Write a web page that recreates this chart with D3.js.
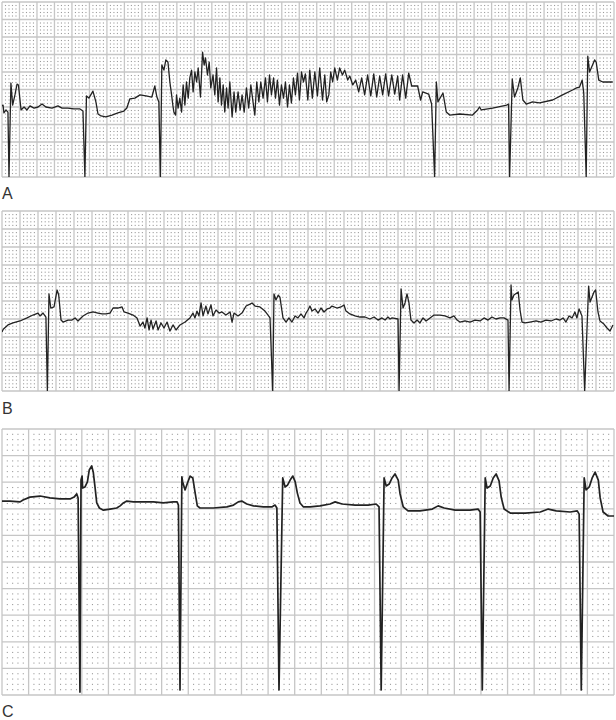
<!DOCTYPE html>
<html lang="en">
<meta charset="utf-8">
<head>
  <script src="https://d3js.org/d3.v7.min.js"></script>
  <style>
    body { margin: 0; background: #fff; }
    svg { display: block; }
    .lbl { font-family: "Liberation Sans", Arial, sans-serif; font-size: 16px; fill: #333; }
  </style>
</head>
<body>
<div id="chart"></div>
<script>
var traceA = [
  [0,4.06],[0.06,4.11],[0.11,3.66],[0.23,3.83],[0.34,3.71],[0.40,0],[0.51,5.37],[0.61,4.11],[0.74,4.69],
  [0.86,5.31],[0.94,5.26],[1.09,3.83],[1.26,4.0],[1.43,3.83],[1.60,4.06],[1.83,3.94],[2.06,4.0],[2.29,4.17],
  [2.51,4.0],[2.86,3.94],[3.20,4.06],[3.43,3.94],[3.77,3.94],[4.11,3.89],[4.46,3.89],[4.63,3.77],[4.74,0],
  [4.83,4.63],[4.97,4.51],[5.20,4.91],[5.37,4.29],[5.49,3.60],[5.66,3.49],[5.94,3.43],[6.29,3.54],[6.63,3.66],
  [6.97,3.77],[7.14,3.94],[7.31,4.46],[7.60,4.51],[7.89,4.69],[8.23,4.63],[8.57,4.57],[8.74,5.20],[8.86,4.57],
  [8.97,4.29],[9.06,0],[9.14,6.40],[9.26,6.11],[9.37,6.69],[9.49,6.57],[9.60,5.43],[9.70,4.69],[9.77,4.11],
  [9.83,3.71],[9.93,3.54],[9.98,4.69],[10.07,3.94],[10.17,4.51],[10.27,3.71],[10.36,5.26],[10.46,4.11],
  [10.55,5.43],[10.65,4.51],[10.74,5.66],[10.84,6.11],[10.93,4.86],[11.03,6.0],[11.13,5.43],[11.22,6.23],
  [11.35,4.57],[11.47,7.14],[11.56,6.40],[11.64,6.80],[11.75,5.83],[11.85,6.57],[11.94,5.09],[12.07,5.83],
  [12.17,4.69],[12.27,6.23],[12.36,4.29],[12.46,5.66],[12.55,4.11],[12.65,5.26],[12.74,3.71],[12.84,5.09],
  [12.93,3.94],[13.03,5.43],[13.16,3.43],[13.27,4.86],[13.37,3.71],[13.50,4.86],[13.62,3.83],[13.73,4.69],
  [13.85,3.71],[13.98,5.09],[14.11,3.94],[14.23,5.26],[14.38,4.11],[14.46,3.54],[14.57,5.43],[14.69,4.29],
  [14.80,5.43],[14.93,4.51],[15.07,5.66],[15.18,4.29],[15.30,5.83],[15.41,4.69],[15.53,5.66],[15.64,4.51],
  [15.75,5.54],[15.87,4.11],[15.98,5.26],[16.10,4.51],[16.21,5.43],[16.33,4.0],[16.44,5.26],[16.55,4.23],
  [16.67,5.66],[16.78,4.69],[16.90,5.94],[17.01,4.40],[17.13,6.0],[17.24,5.43],[17.35,5.89],[17.49,4.40],
  [17.60,6.11],[17.75,4.51],[17.89,6.0],[18.04,4.63],[18.17,6.23],[18.33,4.40],[18.46,5.83],[18.57,4.29],
  [18.69,4.69],[18.80,6.0],[18.91,5.43],[19.03,6.23],[19.18,5.54],[19.31,6.23],[19.47,5.83],[19.60,6.11],
  [19.77,5.54],[19.89,5.77],[20.06,5.26],[20.23,5.54],[20.40,4.86],[20.57,5.66],[20.74,4.69],[20.91,5.83],
  [21.09,4.63],[21.26,5.89],[21.43,4.57],[21.60,5.77],[21.77,4.69],[21.94,5.89],[22.11,4.63],[22.29,5.83],
  [22.46,4.74],[22.63,5.77],[22.74,4.40],[22.91,5.83],[23.09,4.51],[23.26,5.94],[23.43,5.20],[23.77,5.20],
  [23.94,4.40],[24.06,4.86],[24.40,4.74],[24.57,4.17],[24.74,0],[24.84,5.43],[24.93,4.29],[25.22,4.80],
  [25.41,3.71],[25.60,3.54],[26.17,3.60],[26.91,3.54],[27.20,3.83],[27.31,4.0],[27.41,3.83],[28.06,3.94],
  [28.86,4.11],[28.97,4.17],[29.03,0],[29.18,5.60],[29.31,4.57],[29.50,5.09],[29.64,5.66],[29.79,4.40],
  [29.98,4.17],[30.34,4.29],[30.74,4.23],[31.49,4.40],[32.06,4.69],[32.63,4.97],[32.86,5.09],[33.03,5.14],
  [33.18,5.54],[33.27,4.80],[33.41,0],[33.50,6.91],[33.60,6.0],[33.70,6.23],[33.89,6.69],[33.98,6.57],
  [34.13,5.54],[34.36,5.43],[34.93,5.43]
];

var traceB = [
  [0,3.28],[0.07,3.43],[0.33,3.67],[0.61,3.78],[1.0,3.89],[1.39,4.06],[1.72,4.22],[2.0,4.33],[2.11,4.17],
  [2.28,4.33],[2.44,4.11],[2.52,0],[2.61,5.39],[2.71,4.61],[2.89,4.67],[3.06,5.61],[3.15,5.33],[3.28,3.94],
  [3.39,3.83],[3.67,3.94],[3.89,3.94],[4.06,4.06],[4.22,3.89],[4.5,4.17],[4.78,4.33],[5.06,4.39],[5.33,4.33],
  [5.56,4.28],[5.78,4.28],[6.0,4.33],[6.17,4.61],[6.44,4.61],[6.67,4.67],[6.78,4.39],[7.0,4.33],[7.28,4.22],
  [7.5,4.06],[7.67,3.61],[7.83,3.83],[7.94,3.5],[8.06,4.06],[8.17,3.39],[8.28,3.94],[8.39,3.44],[8.56,3.89],
  [8.67,3.39],[8.83,3.78],[9.0,3.5],[9.17,3.83],[9.33,3.33],[9.5,3.67],[9.67,3.39],[9.89,3.67],[10.17,3.83],
  [10.44,4.06],[10.61,4.33],[10.72,4.06],[10.83,4.44],[10.94,4.17],[11.06,4.89],[11.17,4.17],[11.33,4.72],
  [11.44,4.28],[11.61,4.78],[11.72,4.17],[11.89,4.5],[12.06,4.33],[12.22,4.39],[12.44,4.22],[12.67,4.39],
  [12.78,3.83],[12.89,4.33],[13.11,4.17],[13.33,4.33],[13.56,4.72],[13.78,4.83],[13.89,4.89],[14.06,4.72],
  [14.33,4.67],[14.61,4.44],[14.78,4.22],[14.89,4.06],[15.04,0],[15.11,5.39],[15.22,5.06],[15.35,5.33],
  [15.44,5.22],[15.61,4.06],[15.78,3.83],[15.94,4.06],[16.11,3.83],[16.28,4.17],[16.44,4.06],[16.61,4.28],
  [16.78,4.06],[16.89,4.33],[17.0,4.5],[17.11,4.72],[17.22,4.44],[17.39,4.56],[17.56,4.33],[17.72,4.61],
  [17.89,4.39],[18.06,4.56],[18.22,4.61],[18.33,4.72],[18.61,4.61],[18.83,4.67],[19.0,4.78],[19.11,4.44],
  [19.33,4.28],[19.61,4.17],[19.89,4.11],[20.17,4.11],[20.44,4.0],[20.67,4.11],[20.89,3.94],[21.11,4.06],
  [21.28,3.94],[21.44,4.11],[21.56,4.0],[21.67,4.06],[22.0,4.0],[22.06,0],[22.17,5.67],[22.28,4.61],
  [22.39,4.89],[22.5,5.39],[22.61,4.89],[22.72,3.94],[22.89,3.78],[23.06,3.94],[23.22,3.78],[23.39,4.06],
  [23.56,3.89],[23.78,4.06],[24.0,4.22],[24.33,4.22],[24.61,4.17],[24.89,4.06],[25.11,4.17],[25.28,3.94],
  [25.44,3.83],[25.72,3.89],[26.0,3.83],[26.28,3.94],[26.56,3.89],[26.78,4.06],[27.0,3.94],[27.22,4.11],
  [27.44,4.0],[27.67,4.06],[27.89,4.06],[28.11,3.94],[28.17,0],[28.28,5.89],[28.33,5.06],[28.44,5.33],
  [28.68,5.5],[28.78,4.5],[28.89,3.83],[29.06,3.78],[29.33,3.83],[29.67,3.89],[29.94,3.83],[30.22,3.94],
  [30.5,3.89],[30.78,4.0],[31.0,3.94],[31.17,4.06],[31.33,3.83],[31.5,4.17],[31.67,4.06],[31.83,4.39],
  [31.94,4.06],[32.06,4.56],[32.22,4.17],[32.37,0],[32.59,5.83],[32.67,4.94],[32.78,5.22],[32.89,5.5],
  [32.98,5.61],[33.11,4.39],[33.22,3.89],[33.44,3.72],[33.61,3.5],[33.78,3.33],[33.94,3.67]
];

var traceC = [
  [0,7.29],[0.30,7.29],[0.68,7.26],[0.79,7.33],[1.05,7.44],[1.43,7.48],[1.80,7.41],[2.18,7.37],[2.56,7.37],
  [2.71,7.44],[2.81,7.56],[2.86,7.41],[2.93,0.11],[2.97,8.08],[3.01,8.23],[3.03,7.78],[3.12,7.82],[3.21,8.01],
  [3.28,8.46],[3.37,8.61],[3.43,8.38],[3.50,7.78],[3.56,7.22],[3.66,7.03],[3.81,6.95],[4.06,6.99],[4.31,7.03],
  [4.44,7.11],[4.56,7.22],[4.69,7.29],[4.94,7.26],[5.31,7.26],[5.69,7.26],[6.06,7.22],[6.44,7.26],[6.58,7.26],
  [6.63,7.14],[6.69,0.19],[6.76,8.20],[6.79,8.01],[6.88,7.71],[6.97,7.97],[7.07,8.23],[7.17,8.16],[7.26,7.59],
  [7.34,7.11],[7.44,7.03],[7.94,7.03],[8.45,7.07],[8.70,7.14],[8.88,7.26],[9.01,7.29],[9.20,7.18],[9.45,7.11],
  [9.82,7.07],[10.14,7.07],[10.26,7.14],[10.33,7.03],[10.41,0.19],[10.55,8.16],[10.64,7.82],[10.73,7.89],
  [10.83,8.08],[10.93,8.23],[11.02,8.01],[11.10,7.59],[11.20,7.22],[11.33,7.07],[11.58,7.07],[11.95,7.11],
  [12.33,7.18],[12.52,7.26],[12.78,7.18],[13.27,7.14],[13.76,7.14],[14.06,7.18],[14.17,7.07],[14.25,0.19],
  [14.36,8.16],[14.44,7.86],[14.55,7.93],[14.66,8.16],[14.77,8.31],[14.89,8.08],[14.96,7.56],[15.08,7.07],
  [15.26,6.92],[15.71,6.92],[16.17,6.99],[16.39,7.11],[16.62,7.03],[17.03,6.95],[17.59,6.95],[17.89,6.99],
  [17.97,6.88],[18.05,0.19],[18.16,8.16],[18.23,7.78],[18.35,7.86],[18.46,8.16],[18.57,8.31],[18.68,8.05],
  [18.76,7.44],[18.87,6.99],[19.10,6.84],[19.66,6.84],[20.23,6.88],[20.53,6.99],[20.83,6.92],[21.35,6.88],
  [21.62,6.92],[21.69,6.80],[21.77,0.19],[21.88,8.16],[21.95,7.71],[22.07,7.82],[22.18,8.16],[22.29,8.38],
  [22.41,8.08],[22.48,7.41],[22.59,6.88],[22.78,6.73],[23.0,6.73]
];

var panelLabels = ["A", "B", "C"];
var boxesX = [35, 34, 23];
var boxesY = [10, 10, 10];
var traces = [traceA, traceB, traceC];

// layout of the three strips on the page
var frames = [
  { x: 2, y: 2,   w: 612, h: 175, lblY: 199, stroke: 1.3 },
  { x: 2, y: 211, w: 612, h: 180, lblY: 414, stroke: 1.3 },
  { x: 2, y: 429, w: 612, h: 266, lblY: 717, stroke: 1.7 }
];

var svg = d3.select("#chart")
  .append("svg")
  .attr("width", 616)
  .attr("height", 720);

frames.forEach(function (f, i) {
  var x = d3.scaleLinear().domain([0, boxesX[i]]).range([f.x, f.x + f.w]);
  var y = d3.scaleLinear().domain([0, boxesY[i]]).range([f.y + f.h, f.y]);

  var g = svg.append("g");

  // small-square dots (4 x 4 inside each big square)
  var dots = [];
  for (var bx = 0; bx < boxesX[i]; bx++) {
    for (var by = 0; by < boxesY[i]; by++) {
      for (var a = 1; a < 5; a++) {
        for (var b = 1; b < 5; b++) {
          dots.push([bx + a / 5, by + b / 5]);
        }
      }
    }
  }
  g.append("g").selectAll("rect").data(dots).join("rect")
    .attr("x", function (d) { return x(d[0]) - 0.55; })
    .attr("y", function (d) { return y(d[1]) - 0.55; })
    .attr("width", 1.1)
    .attr("height", 1.1)
    .attr("fill", "#9c9c9c");

  // big-square grid lines
  g.append("g").selectAll("line").data(d3.range(0, boxesX[i] + 1)).join("line")
    .attr("x1", function (d) { return x(d); })
    .attr("x2", function (d) { return x(d); })
    .attr("y1", y(0)).attr("y2", y(boxesY[i]))
    .attr("stroke", "#c6c6c6").attr("stroke-width", 1.3);
  g.append("g").selectAll("line").data(d3.range(0, boxesY[i] + 1)).join("line")
    .attr("y1", function (d) { return y(d); })
    .attr("y2", function (d) { return y(d); })
    .attr("x1", x(0)).attr("x2", x(boxesX[i]))
    .attr("stroke", "#c6c6c6").attr("stroke-width", 1.3);

  svg.append("clipPath").attr("id", "clip" + i)
    .append("rect")
    .attr("x", f.x).attr("y", f.y - 2)
    .attr("width", f.w).attr("height", f.h + 2);

  var line = d3.line()
    .x(function (d) { return x(d[0]); })
    .y(function (d) { return y(d[1]); });

  g.append("path")
    .datum(traces[i])
    .attr("clip-path", "url(#clip" + i + ")")
    .attr("d", line)
    .attr("fill", "none")
    .attr("stroke", "#222")
    .attr("stroke-width", f.stroke)
    .attr("stroke-linejoin", "round");

  svg.append("text")
    .attr("class", "lbl")
    .attr("x", 2)
    .attr("y", f.lblY)
    .text(panelLabels[i]);
});
</script>
</body>
</html>
